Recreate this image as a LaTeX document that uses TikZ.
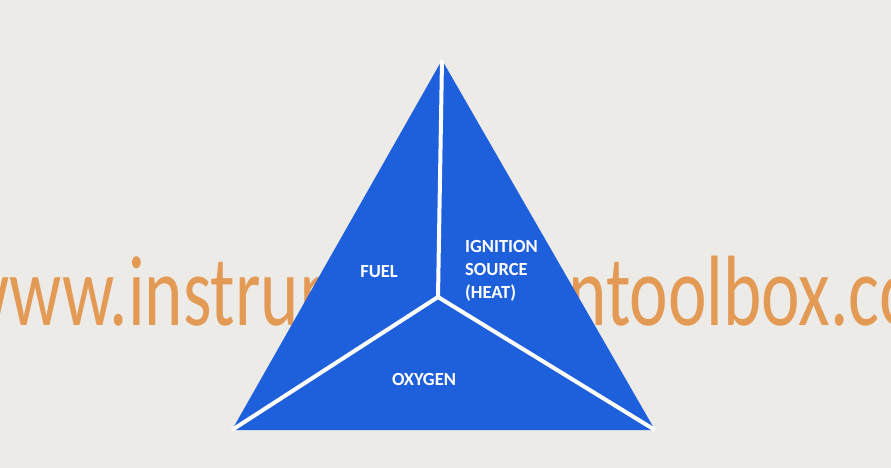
\documentclass[tikz,border=0pt]{standalone}
\usepackage{fontspec}
\setmainfont{Carlito}
\usepackage{graphicx}
\definecolor{bg}{HTML}{EDEBE8}
\definecolor{fireblue}{HTML}{1E60DC}
\definecolor{wmorange}{HTML}{E39A55}

\begin{document}
\begin{tikzpicture}[x=1pt,y=-1pt,
    lbl/.style={text=white,font=\fontsize{18.5}{23}\selectfont\bfseries,inner sep=0pt},
    split/.style={draw=white,line width=4pt}]
  \fill[bg] (0,0) rectangle (891,468);
  \useasboundingbox (0,0) rectangle (891,468);
  \begin{scope}
    \clip (0,0) rectangle (891,468);
    \node[anchor=base west,inner sep=0pt,text=wmorange,font=\fontsize{100}{100}\selectfont] (url) at (-43,325) {\scalebox{0.73}[1]{www.instrumentationtoolbox.com}};
  \end{scope}
  \coordinate (apex) at (442,60);
  \coordinate (bl) at (232,430);
  \coordinate (br) at (655,430);
  \coordinate (mid) at (438,297);
  \fill[fireblue] (apex) -- (bl) -- (br) -- cycle;
  \draw[split] (mid) -- (apex);
  \draw[split] (mid) -- (bl);
  \draw[split] (mid) -- (br);
  \node[lbl,anchor=base] (fuel) at (379,277) {FUEL};
  \node[lbl,anchor=north west,align=left] (heat) at (465,240) {IGNITION\\SOURCE\\(HEAT)};
  \node[lbl,anchor=base] (oxygen) at (424,385) {OXYGEN};
\end{tikzpicture}
\end{document}
